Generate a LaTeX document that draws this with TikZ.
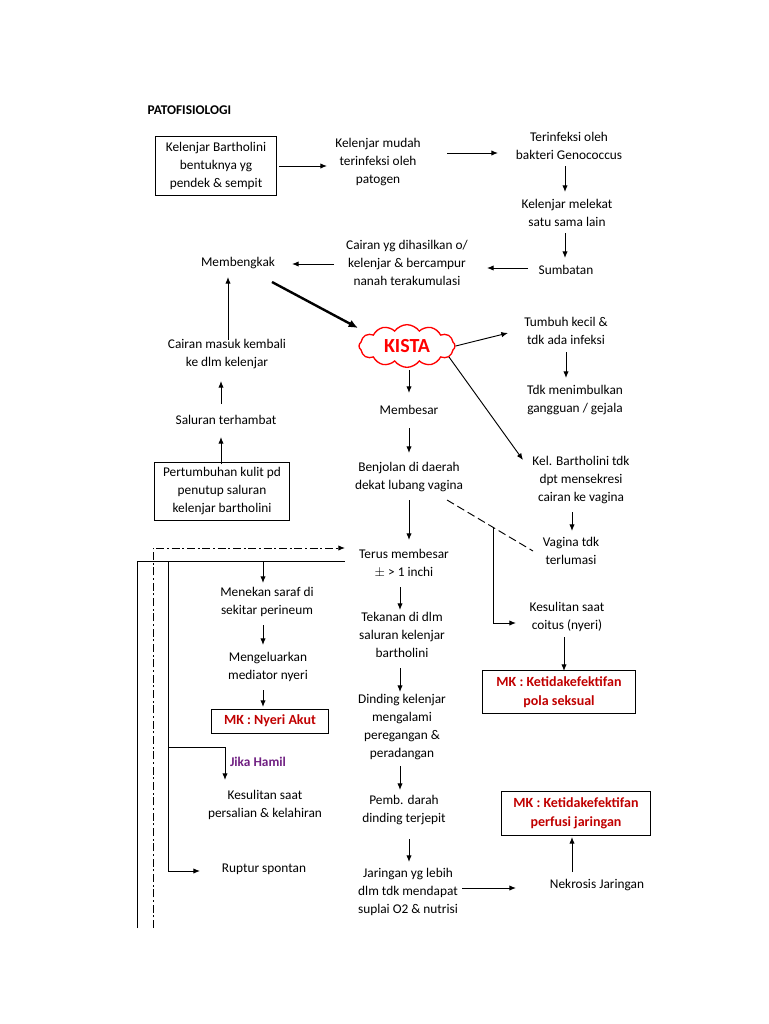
\documentclass[tikz,border=0pt]{standalone}
\usepackage{fontspec}
\setmainfont{Carlito}
\usetikzlibrary{shapes.symbols,arrows.meta}
\definecolor{mkred}{RGB}{192,0,0}
\definecolor{hamil}{RGB}{112,32,130}
\begin{document}
\begin{tikzpicture}[x=0.75pt,y=-0.75pt,
 t/.style={align=center,font=\fontsize{10}{13.5}\selectfont,inner sep=1pt},
 bx/.style={t,draw,line width=0.6pt,inner sep=4pt},
 mk/.style={bx,text=mkred,font=\fontsize{10.5}{14}\selectfont\bfseries},
 ar/.style={-{Latex[length=5pt,width=4pt]},line width=0.7pt},
 ln/.style={line width=0.7pt}]
\useasboundingbox (0,0) rectangle (768,1024);
\node[t,anchor=west,font=\fontsize{10}{12}\selectfont\bfseries] (title) at (146,110) {PATOFISIOLOGI};
\node[bx,minimum width=91pt,minimum height=44pt] (b1) at (216,166) {Kelenjar Bartholini\\bentuknya yg\\pendek \& sempit};
\node[t] (n2) at (378,162) {Kelenjar mudah\\terinfeksi oleh\\patogen};
\node[t] (n3) at (569,146) {Terinfeksi oleh\\bakteri Genococcus};
\node[t] (n4) at (567,213) {Kelenjar melekat\\satu sama lain};
\node[t] (n5) at (566,270) {Sumbatan};
\node[t] (n6) at (407,263) {Cairan yg dihasilkan o/\\kelenjar \& bercampur\\nanah terakumulasi};
\node[t] (n7) at (238,263) {Membengkak};
\node[cloud,cloud puffs=12,cloud puff arc=110,aspect=2.3,minimum width=72pt,minimum height=32pt,draw=red,line width=1pt,text=red,inner sep=1pt,font=\fontsize{15}{16}\selectfont\bfseries] (kista) at (407,346) {KISTA};
\node[t] (n8) at (227,354) {Cairan masuk kembali\\ke dlm kelenjar};
\node[t] (n9) at (226,420) {Saluran terhambat};
\node[bx,minimum width=101pt,minimum height=41pt] (b10) at (222,491) {Pertumbuhan kulit pd\\penutup saluran\\kelenjar bartholini};
\node[t] (n11) at (566,331) {Tumbuh kecil \&\\tdk ada infeksi};
\node[t] (n12) at (575,400) {Tdk menimbulkan\\gangguan / gejala};
\node[t] (n13) at (409,410) {Membesar};
\node[t] (n14) at (409,477) {Benjolan di daerah\\dekat lubang vagina};
\node[t] (n15) at (581,480) {Kel. Bartholini tdk\\dpt mensekresi\\cairan ke vagina};
\node[t] (n16) at (571,551) {Vagina tdk\\terlumasi};
\node[t] (n17) at (404,563) {Terus membesar\\$\pm$ > 1 inchi};
\node[t] (n18) at (567,617) {Kesulitan saat\\coitus (nyeri)};
\node[mk,minimum width=115pt,minimum height=32pt] (b19) at (559,692) {MK : Ketidakefektifan\\pola seksual};
\node[t] (n20) at (267,602) {Menekan saraf di\\sekitar perineum};
\node[t] (n21) at (268,667) {Mengeluarkan\\mediator nyeri};
\node[mk,minimum width=88pt,minimum height=18pt,inner sep=2pt] (b22) at (270,721) {MK : Nyeri Akut};
\node[t,text=hamil,font=\fontsize{10}{12}\selectfont\bfseries] (hamil) at (258,762) {Jika Hamil};
\node[t] (n23) at (265,805) {Kesulitan saat\\persalian \& kelahiran};
\node[t] (n24) at (264,869) {Ruptur spontan};
\node[t] (n25) at (402,635) {Tekanan di dlm\\saluran kelenjar\\bartholini};
\node[t] (n26) at (402,727) {Dinding kelenjar\\mengalami\\peregangan \&\\peradangan};
\node[t] (n27) at (404,810) {Pemb. darah\\dinding terjepit};
\node[t] (n28) at (408,892) {Jaringan yg lebih\\dlm tdk mendapat\\suplai O2 \& nutrisi};
\node[t] (n29) at (597,885) {Nekrosis Jaringan};
\node[mk,minimum width=112pt,minimum height=33pt] (b30) at (576,813) {MK : Ketidakefektifan\\perfusi jaringan};
% arrows
\draw[ar] (279,166) -- (327,166);
\draw[ar] (447,153) -- (498,153);
\draw[ar] (565,166) -- (565,192);
\draw[ar] (565,233) -- (565,258);
\draw[ar] (528,268) -- (487,268);
\draw[ar] (334,264) -- (292,264);
\draw[ar] (228,340) -- (228,277);
\draw[-{Latex[length=7pt,width=6pt]},line width=1.8pt] (272,282) -- (358,328);
\draw[ar] (221,404) -- (221,381);
\draw[ar] (221,464) -- (221,437);
\draw[ar] (kista.east) -- (508,333);
\draw[ar] (566,352) -- (566,378);
\draw[ar] (449,357) -- (523,460);
\draw[ar] (409,370) -- (409,393);
\draw[ar] (409,428) -- (409,453);
\draw[ar] (409,500) -- (409,540);
\draw[ar] (572,512) -- (572,531);
\draw[ar] (400,587) -- (400,610);
\draw[ar] (400,668) -- (400,692);
\draw[ar] (400,766) -- (400,790);
\draw[ar] (409,839) -- (409,862);
\draw[ar] (462,888) -- (516,888);
\draw[ar] (572,872) -- (572,837);
\draw[ar] (564,637) -- (564,671);
\draw[ar] (263,625) -- (263,645);
\draw[ar] (263,690) -- (263,707);
% dashed from Benjolan to Vagina
\draw[ln,dash pattern=on 6pt off 3pt] (447,500) -- (533,551);
\coordinate (dj) at (493,528);
\draw[ar] (dj) -- (493,623) -- (516,623);
% left bracket lines
\draw[ar,dash pattern=on 6pt off 2pt on 1.5pt off 2pt] (153,928) -- (153,548) -- (345,548);
\draw[ln] (137,928) -- (137,561) -- (345,561);
\draw[ar] (263,561) -- (263,583);
\draw[ln] (168,561) -- (168,871);
\draw[ar] (168,871) -- (200,871);
\draw[ar] (168,747) -- (225,747) -- (225,780);
\end{tikzpicture}
\end{document}
